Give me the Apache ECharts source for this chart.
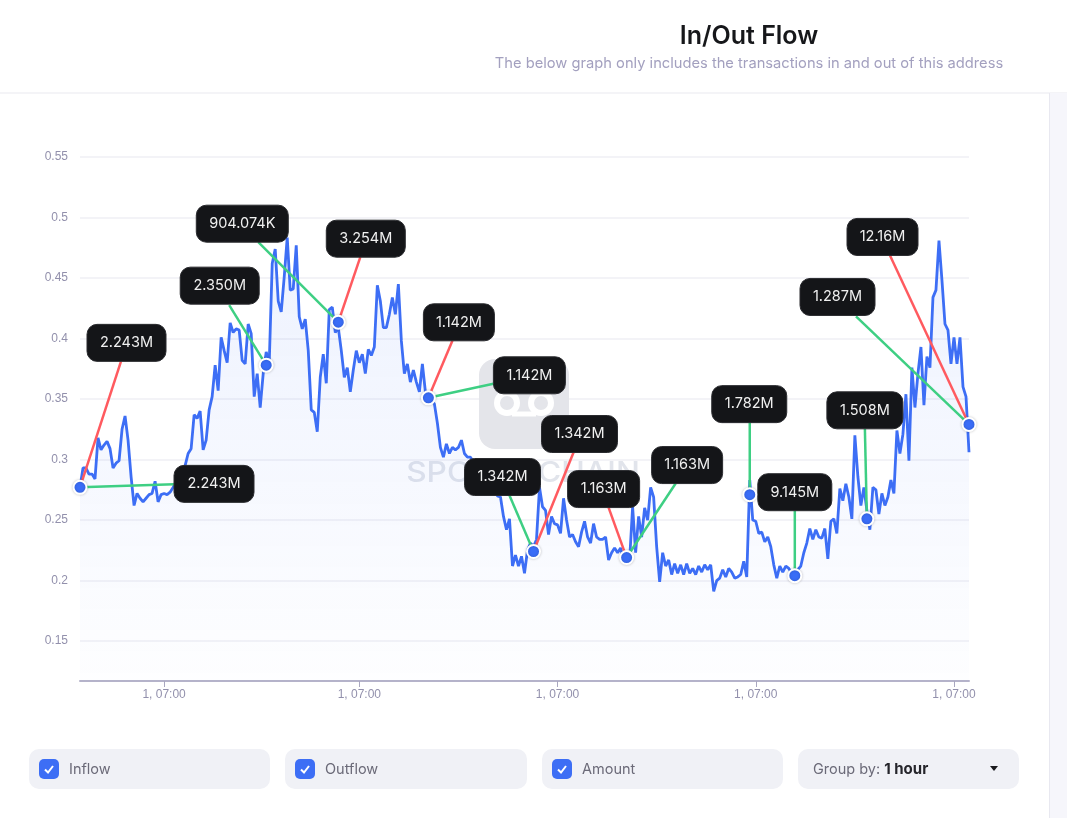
<!DOCTYPE html>
<html>

<head>
    <meta charset="utf-8">
    <title>In/Out Flow</title>
    <script src="https://cdn.jsdelivr.net/npm/echarts@6/dist/echarts.min.js"></script>
    <style>
        html, body { margin: 0; padding: 0; background: #fff; overflow: hidden; }
        #chart { position: absolute; left: 0; top: 0; width: 1067px; height: 818px; }
        .scroll { position: absolute; left: 1049px; top: 93px; width: 17px; height: 725px; background: #f6f6fb; border-left: 1px solid #e8e8f0; }
        .rule { position: absolute; left: 0; top: 92px; width: 1067px; height: 2px; background: #f4f4f7; }
        .ctl { position: absolute; top: 749px; height: 40px; background: #f0f1f6; border-radius: 10px; font: 400 14.5px Inter, sans-serif; color: #6b6a78; line-height: 40px; }
        .ctl .box { position: absolute; left: 10px; top: 10px; width: 20px; height: 20px; border-radius: 5px; background: #3d6ef5; }
        .ctl .box svg { position: absolute; left: 0; top: 0; }
        .ctl .txt { position: absolute; left: 40px; }
        .ctl b { color: #25252b; font-weight: 700; font-size: 15px; }
        .arrow { position: absolute; left: 192px; top: 17px; width: 0; height: 0; border-left: 4.5px solid transparent; border-right: 4.5px solid transparent; border-top: 5px solid #1a1a1e; }
    </style>
</head>

<body>
    <div id="chart"></div>
    <div class="rule"></div>
    <div class="scroll"></div>

    <div class="ctl" style="left:29px;width:241px"><span class="box"><svg width="20" height="20"><path d="M6 10.5l3 3 5-6.5" fill="none" stroke="#fff" stroke-width="2"/></svg></span><span class="txt">Inflow</span></div>
    <div class="ctl" style="left:285px;width:242px"><span class="box"><svg width="20" height="20"><path d="M6 10.5l3 3 5-6.5" fill="none" stroke="#fff" stroke-width="2"/></svg></span><span class="txt">Outflow</span></div>
    <div class="ctl" style="left:542px;width:241px"><span class="box"><svg width="20" height="20"><path d="M6 10.5l3 3 5-6.5" fill="none" stroke="#fff" stroke-width="2"/></svg></span><span class="txt">Amount</span></div>
    <div class="ctl" style="left:798px;width:221px"><span class="txt" style="left:15px">Group by: <b>1 hour</b></span><span class="arrow"></span></div>

    <script>
        // tick labels
        var yTicks = [0.15, 0.2, 0.25, 0.3, 0.35, 0.4, 0.45, 0.5, 0.55];
        var xTickIndexes = [28, 93, 159, 225, 291];

        // price line left to right
        var amountLine = [
            0.277, 0.293, 0.293, 0.288, 0.288, 0.284, 0.318, 0.308, 0.312, 0.315,
            0.309, 0.293, 0.297, 0.299, 0.325, 0.336, 0.316, 0.286, 0.262, 0.272,
            0.268, 0.265, 0.268, 0.271, 0.272, 0.282, 0.265, 0.271, 0.272, 0.271,
            0.273, 0.277, 0.282, 0.285, 0.29, 0.295, 0.305, 0.309, 0.337, 0.334,
            0.34, 0.308, 0.316, 0.341, 0.352, 0.378, 0.357, 0.401, 0.39, 0.38,
            0.413, 0.405, 0.408, 0.407, 0.382, 0.379, 0.412, 0.404, 0.352, 0.371,
            0.343, 0.371, 0.389, 0.379, 0.462, 0.474, 0.431, 0.422, 0.451, 0.4835,
            0.44, 0.441, 0.477, 0.418, 0.408, 0.416, 0.39, 0.341, 0.339, 0.323,
            0.368, 0.387, 0.363, 0.424, 0.426, 0.405, 0.409, 0.39, 0.368, 0.376,
            0.356, 0.374, 0.39, 0.38, 0.387, 0.371, 0.391, 0.386, 0.393, 0.444,
            0.431, 0.409, 0.409, 0.42, 0.434, 0.42, 0.445, 0.398, 0.371, 0.379,
            0.364, 0.374, 0.364, 0.356, 0.379, 0.356, 0.352, 0.349, 0.346, 0.33,
            0.31, 0.302, 0.313, 0.305, 0.31, 0.308, 0.31, 0.316, 0.305, 0.302,
            0.302, 0.298, 0.295, 0.29, 0.288, 0.285, 0.283, 0.28, 0.275, 0.27,
            0.269, 0.253, 0.242, 0.251, 0.212, 0.221, 0.212, 0.22, 0.206, 0.225,
            0.231, 0.228, 0.234, 0.277, 0.261, 0.258, 0.238, 0.253, 0.247, 0.246,
            0.239, 0.268, 0.25, 0.236, 0.238, 0.232, 0.228, 0.24, 0.249, 0.236,
            0.231, 0.247, 0.236, 0.234, 0.234, 0.236, 0.217, 0.223, 0.227, 0.223,
            0.227, 0.217, 0.22, 0.217, 0.261, 0.223, 0.253, 0.236, 0.26, 0.25,
            0.277, 0.269, 0.228, 0.199, 0.223, 0.212, 0.217, 0.205, 0.214, 0.206,
            0.213, 0.205, 0.214, 0.206, 0.21, 0.205, 0.212, 0.207, 0.213, 0.209,
            0.213, 0.191, 0.2, 0.202, 0.209, 0.203, 0.21, 0.207, 0.202, 0.203,
            0.205, 0.216, 0.203, 0.283, 0.25, 0.249, 0.239, 0.24, 0.232, 0.236,
            0.228, 0.213, 0.202, 0.212, 0.207, 0.212, 0.21, 0.206, 0.206, 0.209,
            0.212, 0.223, 0.231, 0.243, 0.234, 0.242, 0.236, 0.235, 0.243, 0.218,
            0.249, 0.251, 0.239, 0.276, 0.266, 0.28, 0.269, 0.251, 0.32, 0.286,
            0.262, 0.277, 0.258, 0.242, 0.277, 0.275, 0.255, 0.272, 0.262, 0.269,
            0.283, 0.272, 0.324, 0.305, 0.321, 0.354, 0.299, 0.376, 0.343, 0.371,
            0.393, 0.345, 0.385, 0.376, 0.434, 0.44, 0.481, 0.448, 0.412, 0.407,
            0.379, 0.401, 0.379, 0.401, 0.36, 0.352, 0.306
        ];

        // transaction dots
        var dotIndex = [0, 62, 86, 116, 151, 182, 223, 238, 262, 296];
        var dotValue = [0.277, 0.378, 0.4135, 0.351, 0.224, 0.219, 0.271, 0.204, 0.251, 0.329];

        // callouts, each one belongs to a dot
        var inflowDot = [0, 1, 2, 3, 4, 5, 6, 7, 8, 9];
        var inflowText = ['2.243M', '2.350M', '904.074K', '1.142M', '1.342M', '1.163M', '1.782M', '9.145M', '1.508M', '1.287M'];
        var outflowDot = [0, 2, 3, 4, 5, 9];
        var outflowText = ['2.243M', '3.254M', '1.142M', '1.342M', '1.163M', '12.16M'];

        // label box placement relative to its dot: left, top, width, line start x, line start y
        var inflowBox = [
            [94, -22, 80, 94, -3], [-86, -98, 79, -37, -60], [-142, -117, 92, -80, -80],
            [65, -41, 72, 65, -14], [-69, -93, 76, -24, -56], [25, -111, 71, 49, -74],
            [-38, -109, 75, 0, -72], [-37, -102, 74, 0, -65], [-40, -127, 76, -2, -90],
            [-169, -146, 75, -113, -108]
        ];
        var outflowBox = [
            [7, -163, 79, 41, -126], [-12, -102, 79, 22, -65], [-5, -94, 71, 24, -57],
            [8, -136, 76, 40, -99], [-59, -87, 72, -18, -50], [-122, -206, 71, -79, -169]
        ];

        var xLabels = amountLine.map(function () { return '1, 07:00'; });

        function calloutData(dots, texts) {
            return dots.map(function (d, i) {
                return { value: [dotIndex[d], dotValue[d], i], text: texts[i] };
            });
        }

        function calloutRenderer(lineColor, boxes, texts) {
            return function (params, api) {
                var p = api.coord([api.value(0), api.value(1)]);
                var b = boxes[api.value(2)];
                return {
                    type: 'group',
                    children: [{
                        type: 'line',
                        shape: { x1: p[0] + b[3], y1: p[1] + b[4], x2: p[0], y2: p[1] },
                        style: { stroke: lineColor, lineWidth: 2.5 }
                    }, {
                        type: 'rect',
                        shape: { x: p[0] + b[0], y: p[1] + b[1], width: b[2], height: 37, r: 10 },
                        style: { fill: '#141518', stroke: '#2a2b2f', lineWidth: 1 }
                    }, {
                        type: 'text',
                        style: {
                            x: p[0] + b[0] + b[2] / 2,
                            y: p[1] + b[1] + 18.5,
                            text: texts[api.value(2)],
                            fill: '#f0f0f0',
                            font: '400 14.5px Inter',
                            align: 'center',
                            verticalAlign: 'middle'
                        }
                    }]
                };
            };
        }

        var myChart = echarts.init(document.getElementById('chart'));

        var option = {
            animation: false,
            title: {
                text: 'In/Out Flow',
                subtext: 'The below graph only includes the transactions in and out of this address',
                left: 744,
                top: 19,
                textAlign: 'center',
                itemGap: 7,
                textStyle: { fontFamily: 'Inter', fontSize: 25, fontWeight: 600, color: '#16171a' },
                subtextStyle: { fontFamily: 'Inter', fontSize: 14.7, color: '#a3a0bf' }
            },
            grid: { left: 80, right: 98, top: 157, bottom: 137 },
            xAxis: {
                type: 'category',
                boundaryGap: false,
                data: xLabels,
                axisLine: { lineStyle: { color: '#b5b3ca', width: 2 } },
                axisTick: {
                    length: 6,
                    lineStyle: { color: '#a9a7c0' },
                    interval: function (i) { return xTickIndexes.indexOf(i) >= 0; }
                },
                axisLabel: {
                    color: '#9290ac',
                    fontFamily: 'Liberation Sans',
                    fontSize: 12,
                    margin: 8,
                    interval: function (i) { return xTickIndexes.indexOf(i) >= 0; }
                },
                splitLine: { show: false }
            },
            yAxis: {
                type: 'value',
                min: 0.117,
                max: 0.55,
                axisLine: { show: false },
                axisTick: { show: false, customValues: yTicks },
                axisLabel: {
                    customValues: yTicks,
                    color: '#9290ac',
                    fontFamily: 'Liberation Sans',
                    fontSize: 12,
                    margin: 12
                },
                splitLine: { lineStyle: { color: '#f3f3f7', width: 2 } }
            },
            graphic: [
                { type: 'rect', z: 1, silent: true, shape: { x: 479, y: 359, width: 90, height: 90, r: 16 }, style: { fill: '#e4e5ea' } },
                { type: 'circle', z: 1, silent: true, shape: { cx: 507, cy: 403, r: 10 }, style: { fill: 'none', stroke: '#fff', lineWidth: 6 } },
                { type: 'circle', z: 1, silent: true, shape: { cx: 541, cy: 403, r: 10 }, style: { fill: 'none', stroke: '#fff', lineWidth: 6 } },
                { type: 'line', z: 1, silent: true, shape: { x1: 512, y1: 414, x2: 536, y2: 414 }, style: { stroke: '#fff', lineWidth: 5 } },
                { type: 'text', z: 1, silent: true, x: 523, y: 474, scaleX: 1.13, style: { x: 0, y: 0, text: 'SPOTONCHAIN', fill: '#e1e4eb', font: '500 28px Inter', align: 'center', verticalAlign: 'middle' } }
            ],
            series: [{
                name: 'Amount',
                type: 'line',
                data: amountLine,
                symbol: 'none',
                silent: true,
                z: 2,
                lineStyle: { color: '#3d6ef5', width: 2.8 },
                areaStyle: {
                    color: new echarts.graphic.LinearGradient(0, 0, 0, 1, [
                        { offset: 0, color: 'rgba(61,110,245,0.13)' },
                        { offset: 1, color: 'rgba(61,110,245,0.01)' }
                    ])
                }
            }, {
                name: 'Inflow',
                type: 'custom',
                z: 3,
                silent: true,
                renderItem: calloutRenderer('#3ecf83', inflowBox, inflowText),
                data: calloutData(inflowDot, inflowText)
            }, {
                name: 'Outflow',
                type: 'custom',
                z: 3,
                silent: true,
                renderItem: calloutRenderer('#ff5a5f', outflowBox, outflowText),
                data: calloutData(outflowDot, outflowText)
            }, {
                name: 'Transactions',
                type: 'scatter',
                z: 4,
                silent: true,
                clip: false,
                symbolSize: 13,
                itemStyle: {
                    color: '#3a6df7',
                    opacity: 1,
                    borderColor: '#fff',
                    borderWidth: 2,
                    shadowBlur: 3,
                    shadowColor: 'rgba(0,0,0,0.2)'
                },
                data: dotIndex.map(function (d, i) { return [d, dotValue[i]]; })
            }]
        };

        myChart.setOption(option);
    </script>
</body>

</html>
